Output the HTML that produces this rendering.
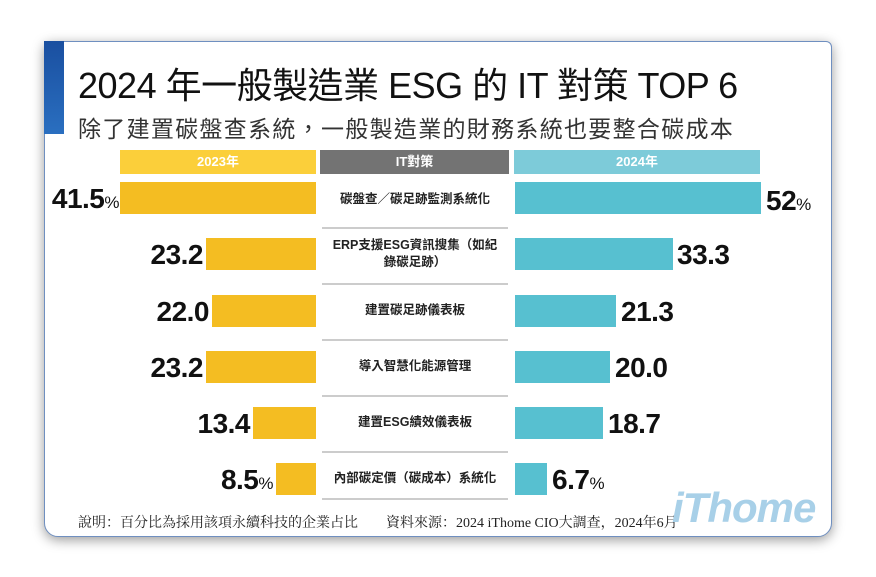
<!DOCTYPE html>
<html><head><meta charset="utf-8"><style>
*{margin:0;padding:0;box-sizing:border-box}
body{width:876px;height:577px;background:#fff;position:relative;overflow:hidden;font-family:"Liberation Sans","Noto Sans CJK TC",sans-serif}
.card{position:absolute;left:44px;top:41px;width:788px;height:496px;border:1.5px solid #6f8fc0;border-radius:6px 6px 14px 14px;background:#fff;box-shadow:0 3px 12px rgba(0,0,0,.4)}
.acc{position:absolute;left:44px;top:41px;width:20px;height:93px;background:linear-gradient(#1a4fa0,#2a6fc0)}
.a{position:absolute;white-space:nowrap}
.title{left:78px;top:57px;font-size:36px;color:#111;letter-spacing:-0.5px}
.sub{left:78px;top:110px;font-size:23px;color:#333;letter-spacing:1.3px}
.h{position:absolute;top:150px;height:24px;color:#fff;font-weight:bold;font-size:13px;text-align:center;line-height:24px}
.bl{position:absolute;height:32px;background:#f4bd22}
.br{position:absolute;left:515px;height:32px;background:#57c0d0}
.v{position:absolute;font-weight:bold;font-size:28px;color:#111;line-height:34px;letter-spacing:-0.5px}
.v small{font-weight:normal;font-size:17px}
.m{position:absolute;left:322px;width:186px;text-align:center;font-size:12.5px;font-weight:bold;color:#222;line-height:17px}
.sep{position:absolute;left:322px;width:186px;height:1.5px;background:#ccc}
</style></head><body>
<div class="card"></div><div class="acc"></div>
<div class="a title">2024 年一般製造業 ESG 的 IT 對策 TOP 6</div>
<div class="a sub">除了建置碳盤查系統，一般製造業的財務系統也要整合碳成本</div>
<div class="h" style="left:120px;width:196px;background:#fbcf3a">2023年</div>
<div class="h" style="left:320px;width:189px;background:#737373">IT對策</div>
<div class="h" style="left:514px;width:246px;background:#7dcbd9">2024年</div>

<div class="bl" style="left:120px;width:196px;top:182px"></div>
<div class="bl" style="left:206px;width:110px;top:238px"></div>
<div class="bl" style="left:212px;width:104px;top:295px"></div>
<div class="bl" style="left:206px;width:110px;top:351px"></div>
<div class="bl" style="left:253px;width:63px;top:407px"></div>
<div class="bl" style="left:276px;width:40px;top:463px"></div>

<div class="br" style="width:246px;top:182px"></div>
<div class="br" style="width:158px;top:238px"></div>
<div class="br" style="width:101px;top:295px"></div>
<div class="br" style="width:95px;top:351px"></div>
<div class="br" style="width:88px;top:407px"></div>
<div class="br" style="width:32px;top:463px"></div>

<div class="v" style="right:757px;top:182px">41.5<small>%</small></div>
<div class="v" style="right:673px;top:238px">23.2</div>
<div class="v" style="right:667px;top:295px">22.0</div>
<div class="v" style="right:673px;top:351px">23.2</div>
<div class="v" style="right:626px;top:407px">13.4</div>
<div class="v" style="right:603px;top:463px">8.5<small>%</small></div>

<div class="v" style="left:766px;top:184px">52<small>%</small></div>
<div class="v" style="left:677px;top:238px">33.3</div>
<div class="v" style="left:621px;top:295px">21.3</div>
<div class="v" style="left:615px;top:351px">20.0</div>
<div class="v" style="left:608px;top:407px">18.7</div>
<div class="v" style="left:552px;top:463px">6.7<small>%</small></div>

<div class="m" style="top:191px">碳盤查／碳足跡監測系統化</div>
<div class="m" style="top:237px">ERP支援ESG資訊搜集（如紀<br>錄碳足跡）</div>
<div class="m" style="top:302px">建置碳足跡儀表板</div>
<div class="m" style="top:358px">導入智慧化能源管理</div>
<div class="m" style="top:414px">建置ESG績效儀表板</div>
<div class="m" style="top:470px">內部碳定價（碳成本）系統化</div>
<div class="sep" style="top:227px"></div>
<div class="sep" style="top:283px"></div>
<div class="sep" style="top:339px"></div>
<div class="sep" style="top:395px"></div>
<div class="sep" style="top:451px"></div>
<div class="sep" style="top:498px"></div>

<div class="a" style="left:78px;top:512px;font-size:14px;color:#222;font-family:'Liberation Serif','Noto Serif CJK SC',serif">說明：百分比為採用該項永續科技的企業占比　　資料來源：2024 iThome CIO大調查，2024年6月</div>
<div class="a" style="left:672px;top:484px;font-size:42px;font-weight:bold;font-style:italic;color:#a8d0e8;letter-spacing:-1px">iThome</div>
</body></html>
